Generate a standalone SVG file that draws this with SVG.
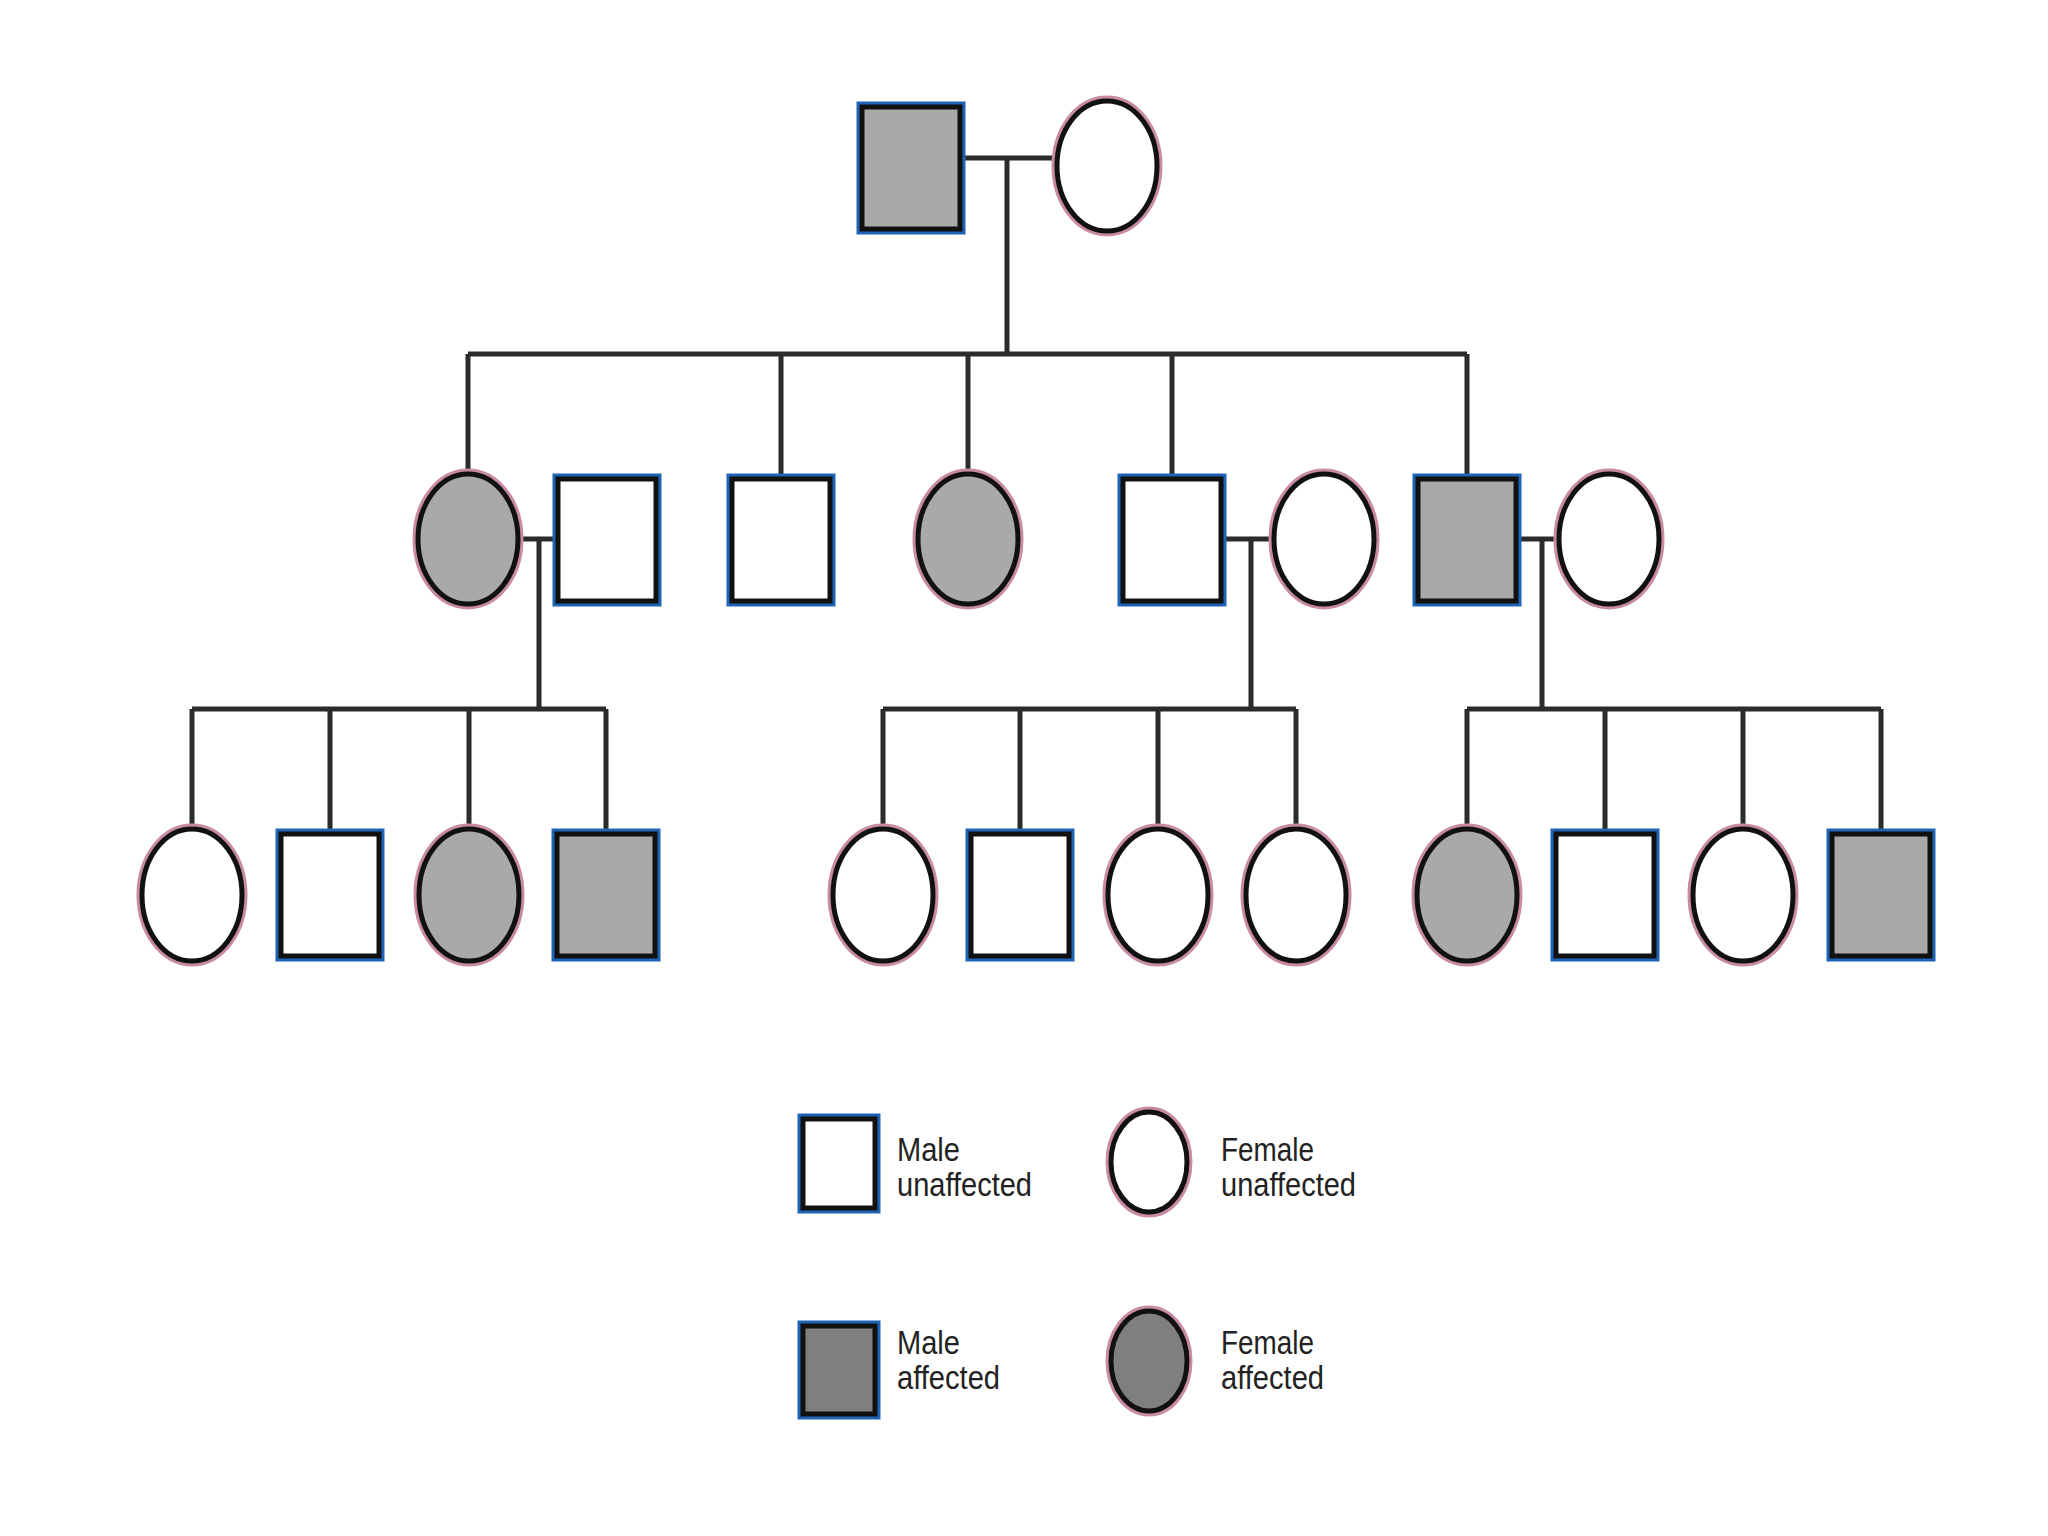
<svg xmlns="http://www.w3.org/2000/svg" width="2048" height="1536" viewBox="0 0 2048 1536">
<style>
.bg{fill:#fff}
.ln{stroke:#2b2b2b;stroke-width:5;fill:none}
.mo{stroke:#1f64b4;stroke-width:11}
.fo{stroke:#c98aa5;stroke-width:11}
.in{stroke:#111;stroke-width:5}
.u{fill:#fff}.a{fill:#a9a9a9}.la{fill:#7f7f7f}
text{font-family:"Liberation Sans Narrow","Liberation Sans",Arial,sans-serif;font-size:34px;fill:#222}
</style>
<rect class="bg" width="2048" height="1536"/>
<g id="connectors">
<path class="ln" d="M960 158H1057M1007 158V354M468 354H1467M468 354V474M781 354V479M968 354V474M1172 354V479M1467 354V479"/>
<path class="ln" d="M517 539H558M539 539V709M192 709H606M192 709V828M330 709V833M469 709V828M606 709V833"/>
<path class="ln" d="M1221 539H1274M1251 539V709M883 709H1296M883 709V828M1020 709V833M1158 709V828M1296 709V828"/>
<path class="ln" d="M1516 539H1559M1542 539V709M1467 709H1881M1467 709V828M1605 709V833M1743 709V828M1881 709V833"/>
</g>
<g id="g1m"><rect class="mo a" x="862" y="107" width="98" height="122"/><rect class="in a" x="862" y="107" width="98" height="122"/></g>
<g id="g1f"><ellipse class="fo u" cx="1107" cy="166" rx="50" ry="65"/><ellipse class="in u" cx="1107" cy="166" rx="50" ry="65"/></g>
<g id="g2a"><ellipse class="fo a" cx="468" cy="539" rx="50" ry="65"/><ellipse class="in a" cx="468" cy="539" rx="50" ry="65"/></g>
<g id="g2as"><rect class="mo u" x="558" y="479" width="98" height="122"/><rect class="in u" x="558" y="479" width="98" height="122"/></g>
<g id="g2b"><rect class="mo u" x="732" y="479" width="98" height="122"/><rect class="in u" x="732" y="479" width="98" height="122"/></g>
<g id="g2c"><ellipse class="fo a" cx="968" cy="539" rx="50" ry="65"/><ellipse class="in a" cx="968" cy="539" rx="50" ry="65"/></g>
<g id="g2d"><rect class="mo u" x="1123" y="479" width="98" height="122"/><rect class="in u" x="1123" y="479" width="98" height="122"/></g>
<g id="g2ds"><ellipse class="fo u" cx="1324" cy="539" rx="50" ry="65"/><ellipse class="in u" cx="1324" cy="539" rx="50" ry="65"/></g>
<g id="g2e"><rect class="mo a" x="1418" y="479" width="98" height="122"/><rect class="in a" x="1418" y="479" width="98" height="122"/></g>
<g id="g2es"><ellipse class="fo u" cx="1609" cy="539" rx="50" ry="65"/><ellipse class="in u" cx="1609" cy="539" rx="50" ry="65"/></g>
<g id="g3a1"><ellipse class="fo u" cx="192" cy="895" rx="50" ry="66"/><ellipse class="in u" cx="192" cy="895" rx="50" ry="66"/></g>
<g id="g3a2"><rect class="mo u" x="281" y="834" width="98" height="122"/><rect class="in u" x="281" y="834" width="98" height="122"/></g>
<g id="g3a3"><ellipse class="fo a" cx="469" cy="895" rx="50" ry="66"/><ellipse class="in a" cx="469" cy="895" rx="50" ry="66"/></g>
<g id="g3a4"><rect class="mo a" x="557" y="834" width="98" height="122"/><rect class="in a" x="557" y="834" width="98" height="122"/></g>
<g id="g3b1"><ellipse class="fo u" cx="883" cy="895" rx="50" ry="66"/><ellipse class="in u" cx="883" cy="895" rx="50" ry="66"/></g>
<g id="g3b2"><rect class="mo u" x="971" y="834" width="98" height="122"/><rect class="in u" x="971" y="834" width="98" height="122"/></g>
<g id="g3b3"><ellipse class="fo u" cx="1158" cy="895" rx="50" ry="66"/><ellipse class="in u" cx="1158" cy="895" rx="50" ry="66"/></g>
<g id="g3b4"><ellipse class="fo u" cx="1296" cy="895" rx="50" ry="66"/><ellipse class="in u" cx="1296" cy="895" rx="50" ry="66"/></g>
<g id="g3c1"><ellipse class="fo a" cx="1467" cy="895" rx="50" ry="66"/><ellipse class="in a" cx="1467" cy="895" rx="50" ry="66"/></g>
<g id="g3c2"><rect class="mo u" x="1556" y="834" width="98" height="122"/><rect class="in u" x="1556" y="834" width="98" height="122"/></g>
<g id="g3c3"><ellipse class="fo u" cx="1743" cy="895" rx="50" ry="66"/><ellipse class="in u" cx="1743" cy="895" rx="50" ry="66"/></g>
<g id="g3c4"><rect class="mo a" x="1832" y="834" width="98" height="122"/><rect class="in a" x="1832" y="834" width="98" height="122"/></g>
<g id="legend">
<rect class="mo u" x="803" y="1119" width="72" height="89"/><rect class="in u" x="803" y="1119" width="72" height="89"/>
<text x="897" y="1161" textLength="63" lengthAdjust="spacingAndGlyphs">Male</text><text x="897" y="1196" textLength="135" lengthAdjust="spacingAndGlyphs">unaffected</text>
<ellipse class="fo u" cx="1149" cy="1162" rx="38" ry="50"/><ellipse class="in u" cx="1149" cy="1162" rx="38" ry="50"/>
<text x="1221" y="1161" textLength="93" lengthAdjust="spacingAndGlyphs">Female</text><text x="1221" y="1196" textLength="135" lengthAdjust="spacingAndGlyphs">unaffected</text>
<rect class="mo la" x="803" y="1326" width="72" height="88"/><rect class="in la" x="803" y="1326" width="72" height="88"/>
<text x="897" y="1354" textLength="63" lengthAdjust="spacingAndGlyphs">Male</text><text x="897" y="1389" textLength="103" lengthAdjust="spacingAndGlyphs">affected</text>
<ellipse class="fo la" cx="1149" cy="1361" rx="38" ry="50"/><ellipse class="in la" cx="1149" cy="1361" rx="38" ry="50"/>
<text x="1221" y="1354" textLength="93" lengthAdjust="spacingAndGlyphs">Female</text><text x="1221" y="1389" textLength="103" lengthAdjust="spacingAndGlyphs">affected</text>
</g>
</svg>
